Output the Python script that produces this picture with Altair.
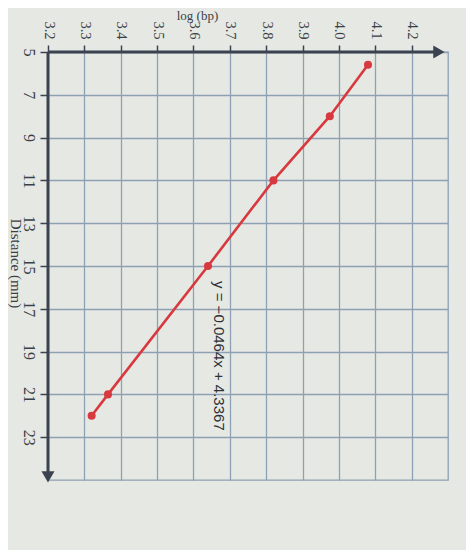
import altair as alt
import pandas as pd

# Data (distance in mm, log of base pairs)
DISTANCE_MM = [5.6, 8.0, 11.0, 15.0, 21.0, 22.0]
LOG_BP = [4.08, 3.975, 3.82, 3.64, 3.365, 3.32]

X_TICKS = [3.2, 3.3, 3.4, 3.5, 3.6, 3.7, 3.8, 3.9, 4.0, 4.1, 4.2]
Y_TICKS = [5, 7, 9, 11, 13, 15, 17, 19, 21, 23]
X_DOMAIN = [3.2, 4.3]
Y_DOMAIN = [5, 25]

EQUATION = "y = \u22120.0464x + 4.3367"
X_TITLE = "log (bp)"
Y_TITLE = "Distance (mm)"

PAPER = "#e6e9e3"
GRID = "#8ea0b4"
AXIS = "#3b4350"
RED = "#d8393f"
TEXT = "#3a3f47"

df = pd.DataFrame({"dist": DISTANCE_MM, "logbp": LOG_BP})

xs = alt.Scale(domain=X_DOMAIN, nice=False, zero=False)
ys = alt.Scale(domain=Y_DOMAIN, nice=False, zero=False, reverse=True)

x_axis = alt.Axis(
    orient="top", values=X_TICKS, format=".1f", labelAngle=90,
    labelAlign="right", labelBaseline="middle", labelPadding=6,
    labelOverlap=False, labelBound=False, labelFlush=False,
    labelFont="Liberation Serif", labelFontSize=14.5, labelColor=TEXT,
    tickSize=7, tickColor=AXIS, tickWidth=1.5, domain=False,
    grid=True, gridColor=GRID, gridWidth=1.3,
    title=X_TITLE, titleFont="Liberation Serif", titleFontSize=13,
    titleFontWeight="normal", titleColor=TEXT, titleAngle=0,
    titleX=149, titleY=-33, titleAlign="center", titleBaseline="alphabetic",
)
y_axis = alt.Axis(
    orient="left", values=Y_TICKS, labelAngle=90,
    labelAlign="center", labelBaseline="top", labelPadding=4,
    labelOverlap=False, labelBound=False, labelFlush=False,
    labelFont="Liberation Serif", labelFontSize=16, labelColor=TEXT,
    tickSize=8, tickColor=AXIS, tickWidth=1.5, domain=False,
    grid=True, gridColor=GRID, gridWidth=1.3,
    title=Y_TITLE, titleFont="Liberation Serif", titleFontSize=15,
    titleFontWeight="normal", titleColor=TEXT, titleAngle=90,
    titleX=-33, titleY=211, titleAlign="center", titleBaseline="middle",
)

base = alt.Chart(df)

line = base.mark_line(color=RED, strokeWidth=2.6).encode(
    x=alt.X("logbp:Q", scale=xs, axis=x_axis),
    y=alt.Y("dist:Q", scale=ys, axis=y_axis),
    order="dist:Q",
)
pts = base.mark_circle(color=RED, size=65, opacity=1).encode(
    x=alt.X("logbp:Q", scale=xs, axis=x_axis),
    y=alt.Y("dist:Q", scale=ys, axis=y_axis),
)

top_rule = alt.Chart().mark_rule(color=AXIS, strokeWidth=3).encode(
    x=alt.datum(3.2, scale=xs, axis=x_axis), x2=alt.datum(4.27),
    y=alt.datum(5, scale=ys, axis=y_axis)
)
left_rule = alt.Chart().mark_rule(color=AXIS, strokeWidth=3).encode(
    x=alt.datum(3.2, scale=xs, axis=x_axis),
    y=alt.datum(5, scale=ys, axis=y_axis), y2=alt.datum(24.85)
)
arrow_r = alt.Chart().mark_point(shape="triangle-right", filled=True, color=AXIS,
                                 size=170, opacity=1).encode(
    x=alt.datum(4.275, scale=xs, axis=x_axis), y=alt.datum(5, scale=ys, axis=y_axis)
)
arrow_d = alt.Chart().mark_point(shape="triangle-down", filled=True, color=AXIS,
                                 size=170, opacity=1).encode(
    x=alt.datum(3.2, scale=xs, axis=x_axis), y=alt.datum(24.85, scale=ys, axis=y_axis)
)

eq = alt.Chart().mark_text(
    text=EQUATION, angle=90, align="center", baseline="middle",
    font="Liberation Sans", fontSize=15, color="#2e3138",
).encode(x=alt.datum(3.67, scale=xs, axis=x_axis), y=alt.datum(19.2, scale=ys, axis=y_axis))

chart = alt.layer(line, pts, top_rule, left_rule, arrow_r, arrow_d, eq).properties(
    width=400, height=428,
    autosize=alt.AutoSizeParams(type="none"),
    padding={"left": 40, "top": 44, "right": 18, "bottom": 70},
    background=PAPER,
).configure_view(stroke=GRID, strokeWidth=1.3).configure_axis(
    labelOverlap=False
)

chart.save("out.html", embed_options={"renderer": "svg", "actions": False})
